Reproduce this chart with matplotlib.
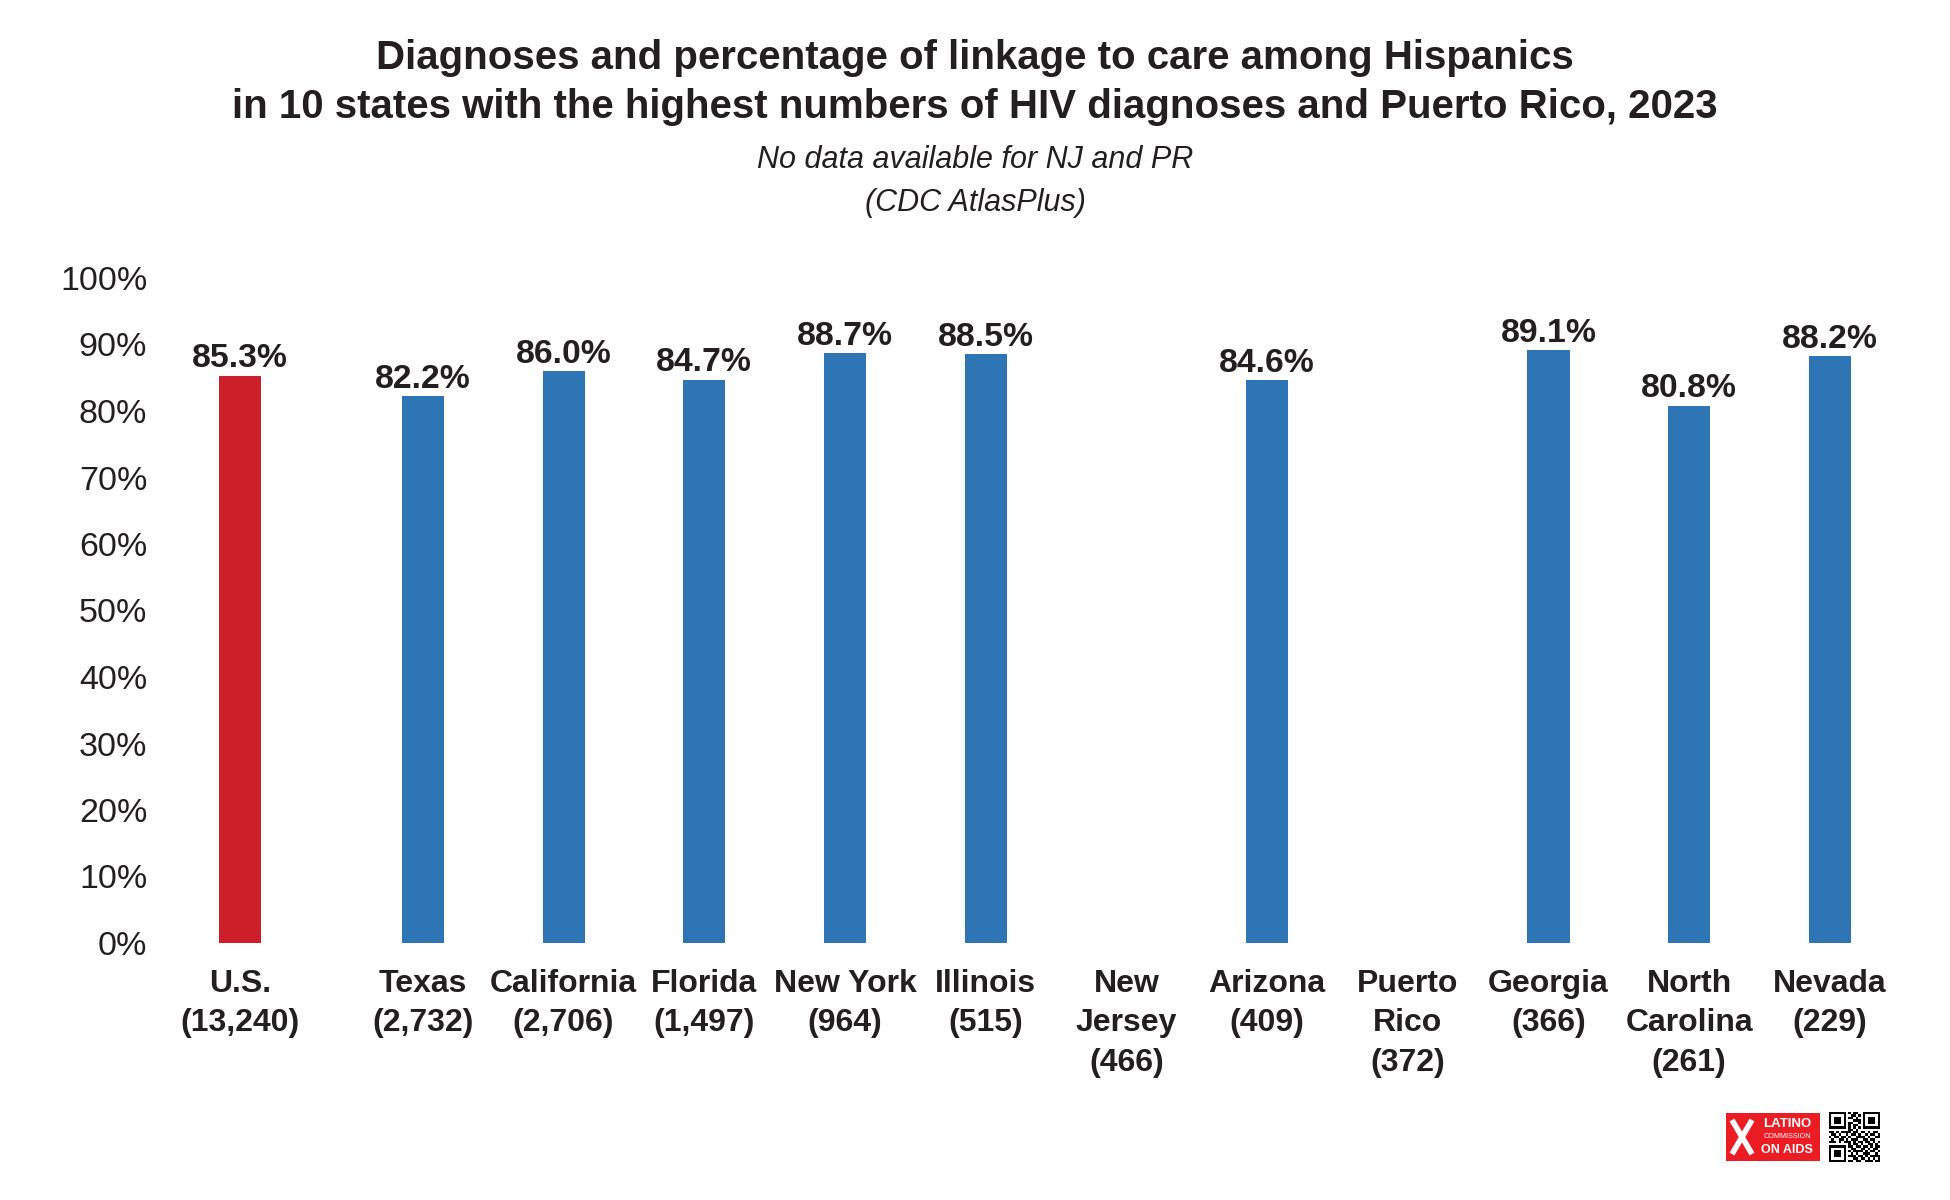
import numpy as np
import matplotlib
matplotlib.use("Agg")
import matplotlib.pyplot as plt
from matplotlib.patches import Rectangle

# ---------------- data ----------------
regions = ["U.S.", "Texas", "California", "Florida", "New York", "Illinois",
           "New\nJersey", "Arizona", "Puerto\nRico", "Georgia", "North\nCarolina", "Nevada"]
diagnoses = [13240, 2732, 2706, 1497, 964, 515, 466, 409, 372, 366, 261, 229]
linkage_pct = [85.3, 82.2, 86.0, 84.7, 88.7, 88.5, None, 84.6, None, 89.1, 80.8, 88.2]
y_ticks = [0, 10, 20, 30, 40, 50, 60, 70, 80, 90, 100]

title_lines = ["Diagnoses and percentage of linkage to care among Hispanics",
               "in 10 states with the highest numbers of HIV diagnoses and Puerto Rico, 2023"]
subtitle_lines = ["No data available for NJ and PR", "(CDC AtlasPlus)"]

# ---------------- style ----------------
TXT = "#231f20"
RED = "#cd1f29"
BLUE = "#2e75b6"
FONT = "Liberation Sans"
plt.rcParams["font.family"] = [FONT, "DejaVu Sans"]

W, H = 1950, 1200
fig = plt.figure(figsize=(W / 100, H / 100), dpi=100)

# layout: national total set apart from states
x = np.r_[0.0, 1.3 + np.arange(len(regions) - 1)]
bar_w = 0.30
xl = (-0.6, 11.9)
step_px = 140.7
left_px = 240 - 0.6 * step_px
right_px = 240 + 11.9 * step_px
ax = fig.add_axes([left_px / W, 1 - 943 / H, (right_px - left_px) / W, (943 - 278) / H])

for xi, v, name in zip(x, linkage_pct, regions):
    if v is None:
        continue
    col = RED if name == "U.S." else BLUE
    ax.bar(xi, v, width=bar_w, color=col, edgecolor="none", zorder=2)
    ax.annotate(f"{v:.1f}%", (xi, v), xytext=(0, 1), textcoords="offset points",
                ha="center", va="bottom", fontsize=24.3, fontweight="bold",
                color=TXT, clip_on=False)

ax.set_xlim(*xl)
ax.set_ylim(0, 100)
ax.set_yticks(y_ticks)
ax.set_yticklabels([f"{t}%" for t in y_ticks], fontsize=24.5, color=TXT)
ax.set_xticks(x)
ax.set_xticklabels([f"{n}\n({d:,})" for n, d in zip(regions, diagnoses)],
                   fontsize=23, fontweight="bold", color=TXT, linespacing=1.41)
ax.tick_params(axis="both", length=0)
ax.tick_params(axis="x", pad=18.5)
ax.tick_params(axis="y", pad=6)
for s in ax.spines.values():
    s.set_visible(False)

# titles
fig.text(0.5, 1 - 58 / H, title_lines[0], ha="center", va="center",
         fontsize=29, fontweight="bold", color=TXT)
fig.text(0.5, 1 - 107 / H, title_lines[1], ha="center", va="center",
         fontsize=29, fontweight="bold", color=TXT)
fig.text(0.5, 1 - 160 / H, subtitle_lines[0], ha="center", va="center",
         fontsize=22, fontstyle="italic", color=TXT)
fig.text(0.5, 1 - 203 / H, subtitle_lines[1], ha="center", va="center",
         fontsize=22, fontstyle="italic", color=TXT)

# ---------------- logo (decorative) ----------------
lax = fig.add_axes([1726 / W, 1 - 1161 / H, (1820 - 1726) / W, (1161 - 1113) / H])
lax.set_xlim(0, 94)
lax.set_ylim(0, 48)
lax.axis("off")
lax.add_patch(Rectangle((0, 0), 94, 48, color="#ec1c24"))
lax.plot([6, 26], [41, 7], color="white", lw=4.0, solid_capstyle="butt")
lax.plot([6, 26], [7, 41], color="white", lw=4.0, solid_capstyle="butt")
lax.text(61, 37, "LATINO", ha="center", va="center", color="white",
         fontsize=9.5, fontweight="bold")
lax.text(61, 24, "COMMISSION", ha="center", va="center", color="white",
         fontsize=5.2)
lax.text(61, 11, "ON AIDS", ha="center", va="center", color="white",
         fontsize=9, fontweight="bold")

qax = fig.add_axes([1829 / W, 1 - 1162 / H, 51 / W, 50 / H])
qax.set_xlim(0, 21)
qax.set_ylim(0, 21)
qax.axis("off")
qr_rows = [
    "111111101011001111111",
    "100000100110101000001",
    "101110101101001011101",
    "101110100011101011101",
    "101110101100101011101",
    "100000101011001000001",
    "111111101010101111111",
    "000000001101000000000",
    "110101111011011010110",
    "011010010110100101101",
    "101101101001111010011",
    "010011010111001101100",
    "111010111010110110101",
    "000000001011010011010",
    "111111101101101101011",
    "100000100110011010110",
    "101110101011110101101",
    "101110100101001110010",
    "101110101110110101111",
    "100000100011011010101",
    "111111101101100111011",
]
for r, row in enumerate(qr_rows):
    for c, ch in enumerate(row):
        if ch == "1":
            qax.add_patch(Rectangle((c, 20 - r), 1, 1, color="black", lw=0))

fig.savefig("out.png", dpi=100, facecolor="white")
